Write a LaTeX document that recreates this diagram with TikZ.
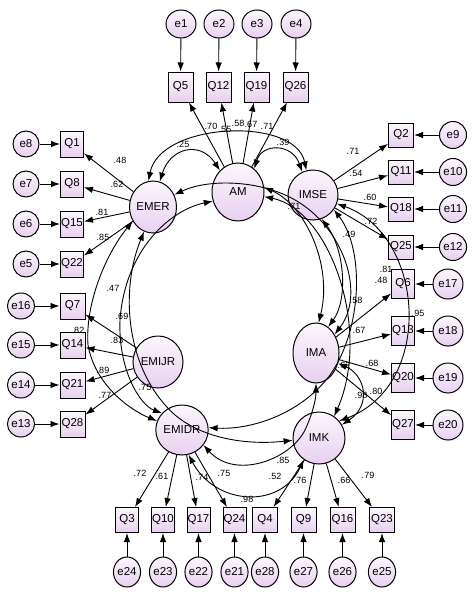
\documentclass[tikz,border=0pt]{standalone}
\usepackage{fontspec}
\setmainfont{Liberation Sans}
\usetikzlibrary{shapes.geometric,arrows.meta}
\definecolor{ftop}{RGB}{252,246,253}
\definecolor{fbot}{RGB}{232,208,240}
\begin{document}
\begin{tikzpicture}[x=1pt,y=-1pt,
  base/.style={draw,line width=1pt,top color=ftop,bottom color=fbot,inner sep=0pt,font=\fontsize{11.5}{12}\selectfont},
  lat/.style={base,ellipse},
  err/.style={base,ellipse,minimum width=27pt,minimum height=27pt},
  obs/.style={base,rectangle,minimum width=24pt,minimum height=26pt},
  load/.style={-{Latex[length=9pt,width=6.5pt]},line width=0.9pt},
  cov/.style={{Latex[length=9pt,width=6.5pt]}-{Latex[length=9pt,width=6.5pt]},line width=0.9pt},
  lab/.style={font=\fontsize{9}{10}\selectfont,inner sep=0pt}]
\fill[white] (0,0) rectangle (474,594);
\useasboundingbox (0,0) rectangle (474,594);

% latent variables
\node[lat,minimum width=45pt,minimum height=52pt] (EMER) at (153,207) {EMER};
\node[lat,minimum width=52pt,minimum height=58pt] (AM) at (238,192) {AM};
\node[lat,minimum width=50pt,minimum height=50pt] (IMSE) at (313,195) {IMSE};
\node[lat,minimum width=50pt,minimum height=52pt] (EMIJR) at (158,362) {EMIJR};
\node[lat,minimum width=46pt,minimum height=60pt] (IMA) at (316,353) {IMA};
\node[lat,minimum width=47pt,minimum height=50pt] (EMIDR) at (182,430) {EMIDR};
\node[lat,minimum width=52pt,minimum height=52pt] (IMK) at (319,438) {IMK};

% top
\foreach \n/\q/\x in {e1/Q5/181,e2/Q12/219,e3/Q19/257,e4/Q26/296}{
  \node[err,minimum width=30pt,minimum height=28pt] (\n) at (\x,24) {\n};
  \node[obs,minimum width=25pt,minimum height=30pt] (\q) at (\x-0.5,87) {\q};
  \draw[load] (\n) -- (\q);
  \draw[load] (AM) -- (\q);
}
% left (EMER)
\foreach \n/\q/\y in {e8/Q1/144,e7/Q8/184,e6/Q15/224,e5/Q22/264}{
  \node[err,minimum width=26pt,minimum height=26pt] (\n) at (26,\y) {\n};
  \node[obs,minimum width=23pt,minimum height=26pt] (\q) at (72,\y) {\q};
  \draw[load] (\n) -- (\q);
  \draw[load] (EMER) -- (\q);
}
% left (EMIJR)
\foreach \n/\q/\y in {e16/Q7/306,e15/Q14/345,e14/Q21/385,e13/Q28/424}{
  \node[err,minimum width=26pt,minimum height=26pt] (\n) at (21,\y) {\n};
  \node[obs,minimum width=25pt,minimum height=26pt] (\q) at (72.5,\y) {\q};
  \draw[load] (\n) -- (\q);
  \draw[load] (EMIJR) -- (\q);
}
% right (IMSE)
\foreach \n/\q/\y in {e9/Q2/135,e10/Q11/172,e11/Q18/209,e12/Q25/247}{
  \node[err,minimum width=27pt,minimum height=27pt] (\n) at (453,\y) {\n};
  \node[obs,minimum width=25pt,minimum height=24pt] (\q) at (401,\y) {\q};
  \draw[load] (\n) -- (\q);
  \draw[load] (IMSE) -- (\q);
}
% right (IMA)
\foreach \n/\q/\y in {e17/Q6/284,e18/Q13/331,e19/Q20/378,e20/Q27/425}{
  \node[err,minimum width=30pt,minimum height=30pt] (\n) at (448,\y) {\n};
  \node[obs,minimum width=23pt,minimum height=29pt] (\q) at (403,\y) {\q};
  \draw[load] (\n) -- (\q);
  \draw[load] (IMA) -- (\q);
}
% bottom (EMIDR)
\foreach \n/\q/\x in {e24/Q3/127,e23/Q10/163,e22/Q17/198.5,e21/Q24/234.5}{
  \node[err,minimum width=26pt,minimum height=30pt] (\n) at (\x,572) {\n};
  \node[obs,minimum width=23pt,minimum height=25pt] (\q) at (\x,520) {\q};
  \draw[load] (\n) -- (\q);
  \draw[load] (EMIDR) -- (\q);
}
% bottom (IMK)
\foreach \n/\q/\x in {e28/Q4/265,e27/Q9/303.5,e26/Q16/342.5,e25/Q23/382}{
  \node[err,minimum width=26pt,minimum height=30pt] (\n) at (\x,572) {\n};
  \node[obs,minimum width=25pt,minimum height=25pt] (\q) at (\x,520) {\q};
  \draw[load] (\n) -- (\q);
  \draw[load] (IMK) -- (\q);
}

% covariances
\draw[cov] (EMER.75) .. controls (170,148) and (200,140) .. (AM.130);
\draw[cov] (EMER.100) .. controls (160,122) and (295,116) .. (IMSE.105);
\draw[cov] (AM.55) .. controls (262,143) and (292,143) .. (IMSE.115);
\draw[cov] (EMER.30) .. controls (210,178) and (265,180) .. (300,203) .. controls (345,232) and (365,295) .. (IMA.45);
\draw[cov] (AM.10) .. controls (305,205) and (333,265) .. (IMA.85);
\draw[cov] (AM.-10) .. controls (330,210) and (372,330) .. (IMK.55);
\draw[cov] (IMSE.-70) .. controls (345,250) and (348,300) .. (IMA.65);
\draw[cov] (IMSE.-20) .. controls (425,235) and (435,385) .. (IMK.40);
\draw[cov] (IMSE.-35) .. controls (365,250) and (362,330) .. (330,375) .. controls (300,415) and (250,430) .. (EMIDR.5);
\draw[cov] (IMA.-25) .. controls (365,375) and (372,405) .. (IMK.30);
\draw[cov] (AM.200) .. controls (170,210) and (125,250) .. (120,320) .. controls (118,370) and (140,405) .. (EMIDR.140);
\draw[cov] (EMER.215) .. controls (105,255) and (85,305) .. (88,345) .. controls (95,385) and (130,410) .. (EMIDR.160);
\draw[cov] (EMER.250) .. controls (120,290) and (125,370) .. (175,415) .. controls (205,440) and (250,445) .. (IMK.185);
\draw[cov] (EMIDR.-35) .. controls (235,480) and (290,460) .. (305,430) .. controls (312,415) and (316,400) .. (IMA.-90);
\draw[cov] (EMIDR.-75) .. controls (215,505) and (280,510) .. (IMK.-125);

% labels
\foreach \t/\x/\y [count=\i] in {
 .70/211/126, .55/225/129, .58/238/123, .67/251/124, .71/267/126,
 .25/183/144, .39/283/142,
 .48/120/160, .62/117/184, .81/102/212, .85/103/237,
 .71/353/151, .54/356/173, .60/370/197, .72/371/221, .49/349/234, .71/294/206,
 .81/386/269, .48/381/280, .58/356/300, .67/359/330, .95/418/313,
 .62/344/365, .68/372/363, .98/361/395, .80/376/391,
 .47/113/288, .69/122/316, .82/78/330, .83/117/340, .89/103/370, .77/105/395, .75/145/387,
 .72/140/473, .61/162/476, .74/202/477, .75/224/473,
 .85/283/460, .52/275/476, .76/300/480, .66/344/480, .79/368/475, .98/247/499}{
  \node[lab] (lab\i) at (\x,\y) {\t};
}
\end{tikzpicture}
\end{document}
